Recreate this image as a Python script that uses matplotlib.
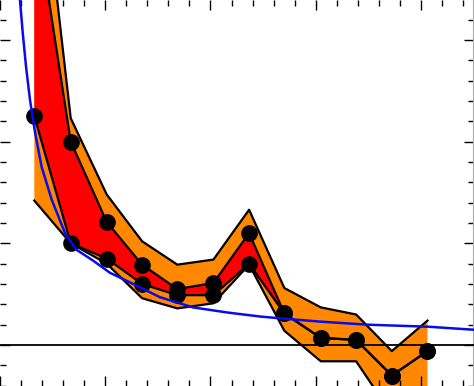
import numpy as np
import matplotlib
matplotlib.use("Agg")
import matplotlib.pyplot as plt
from matplotlib.ticker import MultipleLocator

# --- DATA ---
x_pts = [3.26, 6.72, 10.14, 13.50, 16.85, 20.28, 23.67, 27.02, 30.48, 33.84, 37.23, 40.62]
upper_line = [4.32, 2.00, 1.21, 0.79, 0.55, 0.61, 1.10, 0.31, 0.07, 0.05, -0.30, -0.06]
lower_line = [2.25, 1.00, 0.85, 0.60, 0.49, 0.49, 0.80, 0.31, 0.07, 0.05, -0.30, -0.06]
band_hi = [5.36, 2.23, 1.48, 1.02, 0.79, 0.84, 1.33, 0.56, 0.37, 0.30, -0.06, 0.24]
band_lo = [1.42, 1.00, 0.80, 0.46, 0.36, 0.41, 0.79, 0.14, -0.16, -0.16, -0.68, -0.54]

fit_x = [1.66, 1.90, 2.16, 2.47, 2.85, 3.33, 3.96, 4.91, 6.18, 7.22, 8.84, 10.45,
         12.07, 15.20, 18.34, 21.57, 24.71, 26.89, 30.41, 34.88, 40.67, 45.04]
fit_y = [3.79, 3.39, 3.07, 2.74, 2.41, 2.09, 1.75, 1.43, 1.10, 0.94, 0.83, 0.71,
         0.63, 0.47, 0.37, 0.32, 0.28, 0.26, 0.23, 0.20, 0.18, 0.15]

ORANGE = "#ff8800"
RED = "#ff0000"
BLUE = "#0a0aee"

fig = plt.figure(figsize=(4.74, 3.86), dpi=100)
ax = fig.add_axes([0, 0, 1, 1])

# outer band and its outlines
ax.fill_between(x_pts, band_lo, band_hi, color=ORANGE, lw=0, zorder=1)
ax.plot(x_pts, band_hi, color="black", lw=1.6, zorder=3)
ax.plot(x_pts, band_lo, color="black", lw=1.6, zorder=3)

# inner band between the two measured series
ax.fill_between(x_pts, lower_line, upper_line, color=RED, lw=0, zorder=2)
ax.plot(x_pts, upper_line, color="black", lw=1.6, marker="o", ms=11, zorder=4)
ax.plot(x_pts, lower_line, color="black", lw=1.6, marker="o", ms=11, zorder=4)

# zero line and fitted curve
ax.axhline(0, color="black", lw=1.3, zorder=5)
ax.plot(fit_x, fit_y, color=BLUE, lw=1.8, zorder=6)

ax.set_xlim(0, 45.04)
ax.set_ylim(-0.403, 3.392)

ax.xaxis.set_major_locator(MultipleLocator(10))
ax.xaxis.set_minor_locator(MultipleLocator(2))
ax.yaxis.set_major_locator(MultipleLocator(1))
ax.yaxis.set_minor_locator(MultipleLocator(0.2))
ax.tick_params(which="both", direction="in", top=True, right=True,
               labelbottom=False, labelleft=False, width=1, color="black")
ax.tick_params(which="major", length=7.5)
ax.tick_params(which="minor", length=4.3)

for side in ["left", "top", "bottom"]:
    ax.spines[side].set_visible(False)
ax.spines["right"].set_color("#aaaaaa")
ax.spines["right"].set_linewidth(1.5)

fig.savefig("out.png", dpi=100)
